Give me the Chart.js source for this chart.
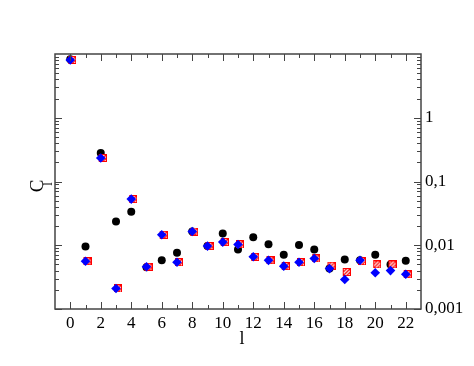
<!DOCTYPE html>
<html>
<head>
<meta charset="utf-8">
<script src="https://cdn.jsdelivr.net/npm/chart.js@4/dist/chart.umd.min.js"></script>
<style>
    html, body { margin: 0; padding: 0; background: #fff; }
    #wrap { width: 474px; height: 366px; }
</style>
</head>
<body>
<div id="wrap"><canvas id="clChart" width="474" height="366"></canvas></div>
<script>
// Dados
const ells = [0, 1, 2, 3, 4, 5, 6, 7, 8, 9, 10, 11, 12, 13, 14, 15, 16, 17, 18, 19, 20, 21, 22];
const clCircle = [8.3, 0.0096, 0.28, 0.0235, 0.0336, 0.0045, 0.0058, 0.0076, 0.0164, 0.0097, 0.0153, 0.0086,
    0.0133, 0.0104, 0.0071, 0.0101, 0.0086, 0.0043, 0.0060, 0.0058, 0.0071, 0.0050, 0.0057];
const clSquare = [8.07, 0.0056, 0.234, 0.0021, 0.053, 0.0046, 0.0146, 0.0054, 0.0164, 0.0097, 0.0112, 0.0103,
    0.0066, 0.0058, 0.0047, 0.0054, 0.0062, 0.0048, 0.0038, 0.0056, 0.0050, 0.0050, 0.0035];
const clDiamond = [8.07, 0.0056, 0.234, 0.0021, 0.053, 0.0046, 0.0146, 0.0054, 0.0164, 0.0097, 0.0112, 0.0103,
    0.0066, 0.0058, 0.0047, 0.0054, 0.0062, 0.0043, 0.0029, 0.0058, 0.0037, 0.0040, 0.0035];

// Eixos
const xTickValues = [0, 2, 4, 6, 8, 10, 12, 14, 16, 18, 20, 22];
const yTickValues = [0.001, 0.01, 0.1, 1];
const yTickLabels = ['0,001', '0,01', '0,1', '1'];

const serif = '"Liberation Serif", "DejaVu Serif", serif';
const frameColor = '#444';

const toPoints = arr => arr.map((v, i) => ({ x: ells[i], y: v }));

// Quadrado vermelho hachurado (levemente deslocado para a direita)
function makeHatchSquare() {
    const c = document.createElement('canvas');
    c.width = 12;
    c.height = 8;
    const g = c.getContext('2d');
    const x0 = 4.5, y0 = 0.5, s = 7;
    g.save();
    g.beginPath();
    g.rect(x0, y0, s, s);
    g.fillStyle = '#fff';
    g.fill();
    g.clip();
    g.strokeStyle = '#ff0000';
    g.lineWidth = 1.2;
    for (let k = -s; k < 2 * s; k += 3.5) {
        g.beginPath();
        g.moveTo(x0 + k, y0 + s);
        g.lineTo(x0 + k + s, y0);
        g.stroke();
    }
    g.restore();
    g.strokeStyle = '#ff0000';
    g.lineWidth = 1;
    g.strokeRect(x0, y0, s, s);
    return c;
}

// Moldura, marcas dos eixos e títulos
const framePlugin = {
    id: 'frame',
    afterDraw(chart) {
        const { ctx, chartArea: a, scales } = chart;
        const xs = scales.x, ys = scales.y;
        ctx.save();
        ctx.strokeStyle = frameColor;
        ctx.lineWidth = 1.5;
        ctx.strokeRect(a.left, a.top, a.right - a.left, a.bottom - a.top);
        ctx.lineWidth = 1;
        ctx.beginPath();
        for (let v = 0; v <= 22; v++) {
            const px = Math.round(xs.getPixelForValue(v)) + 0.5;
            const len = v % 2 === 0 ? 7 : 4;
            ctx.moveTo(px, a.bottom); ctx.lineTo(px, a.bottom - len);
            ctx.moveTo(px, a.top); ctx.lineTo(px, a.top + len);
        }
        for (let e = -3; e <= 0; e++) {
            for (let m = 1; m <= 9; m++) {
                const v = m * Math.pow(10, e);
                const py = Math.round(ys.getPixelForValue(v)) + 0.5;
                const len = m === 1 ? 7 : 4;
                ctx.moveTo(a.left, py); ctx.lineTo(a.left + len, py);
                ctx.moveTo(a.right, py); ctx.lineTo(a.right - len, py);
            }
        }
        ctx.stroke();

        ctx.fillStyle = '#000';
        ctx.textAlign = 'center';
        ctx.textBaseline = 'middle';
        ctx.font = '18px ' + serif;
        ctx.fillText('l', (a.left + a.right) / 2 + 4, 339);

        ctx.translate(38, 186);
        ctx.rotate(-Math.PI / 2);
        ctx.font = '19px ' + serif;
        ctx.fillText('C', 0, 0);
        ctx.font = '13px ' + serif;
        ctx.fillText('l', 2, 11);
        ctx.restore();
    }
};

new Chart(document.getElementById('clChart'), {
    type: 'scatter',
    data: {
        datasets: [
            {
                label: 'diamond',
                data: toPoints(clDiamond),
                pointStyle: 'rectRot',
                pointRadius: 4.8,
                pointBackgroundColor: '#0000ff',
                pointBorderColor: '#0000ff',
                pointBorderWidth: 0
            },
            {
                label: 'square',
                data: toPoints(clSquare),
                pointStyle: makeHatchSquare()
            },
            {
                label: 'circle',
                data: toPoints(clCircle),
                pointStyle: 'circle',
                pointRadius: 4,
                pointBackgroundColor: '#000',
                pointBorderColor: '#000',
                pointBorderWidth: 0
            }
        ]
    },
    options: {
        responsive: false,
        animation: false,
        events: [],
        layout: { padding: { left: 55, top: 54, right: 0, bottom: 0 } },
        plugins: {
            legend: { display: false },
            tooltip: { enabled: false }
        },
        scales: {
            x: {
                type: 'linear',
                min: -1,
                max: 23,
                grid: { display: false, drawTicks: false },
                border: { display: false },
                afterBuildTicks: scale => { scale.ticks = xTickValues.map(v => ({ value: v })); },
                afterFit: scale => { scale.height = 57; },
                ticks: {
                    autoSkip: false,
                    maxRotation: 0,
                    padding: 4,
                    color: '#000',
                    font: { family: serif, size: 17 },
                    callback: v => String(v)
                }
            },
            y: {
                type: 'logarithmic',
                position: 'right',
                min: 0.001,
                max: 10,
                grid: { display: false, drawTicks: false },
                border: { display: false },
                afterBuildTicks: scale => { scale.ticks = yTickValues.map(v => ({ value: v })); },
                afterFit: scale => { scale.width = 53; },
                ticks: {
                    autoSkip: false,
                    padding: 4,
                    color: '#000',
                    font: { family: serif, size: 17 },
                    callback: (v, i) => yTickLabels[i]
                }
            }
        }
    },
    plugins: [framePlugin]
});
</script>
</body>
</html>
